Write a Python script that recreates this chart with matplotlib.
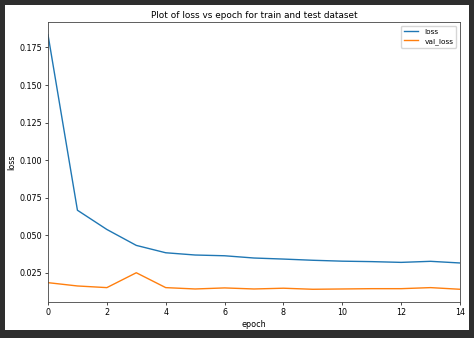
import matplotlib.pyplot as plt
from matplotlib.patches import Rectangle

# wartości
epoch = list(range(15))
loss = [0.1835, 0.0667, 0.0539, 0.0433, 0.0384, 0.0369, 0.0364, 0.0349,
        0.0342, 0.0334, 0.0328, 0.0325, 0.0320, 0.0327, 0.0316]
val_loss = [0.0185, 0.0163, 0.0152, 0.0251, 0.0152, 0.0143, 0.0150, 0.0143,
            0.0148, 0.0141, 0.0143, 0.0145, 0.0145, 0.0152, 0.0141]

fs = 5.8

fig = plt.figure(figsize=(4.74, 3.38), dpi=100, facecolor='#2e2e2e')
# biała ramka wewnątrz ciemnego tła
fig.patches.append(Rectangle((5 / 474, 8 / 338), 464 / 474, 325 / 338,
                             transform=fig.transFigure, facecolor='white',
                             edgecolor='none', zorder=-1))
ax = fig.add_axes([48 / 474, 36 / 338, 412 / 474, 280 / 338])

ax.plot(epoch, loss, color='#1f77b4', lw=1.0, label='loss')
ax.plot(epoch, val_loss, color='#ff7f0e', lw=1.0, label='val_loss')

ax.set_xlim(0, 14)
ax.set_yticks([0.025, 0.050, 0.075, 0.100, 0.125, 0.150, 0.175])
ax.set_title('Plot of loss vs epoch for train and test dataset', fontsize=6.4, pad=3)
ax.set_xlabel('epoch', fontsize=fs, labelpad=2)
ax.set_ylabel('loss', fontsize=fs, labelpad=2)
ax.tick_params(labelsize=fs, width=0.5, length=2.5, pad=2)
for s in ax.spines.values():
    s.set_linewidth(0.6)
    s.set_color('#444444')
ax.legend(loc='upper right', fontsize=5.3, handlelength=2, borderpad=0.4,
          labelspacing=0.4)

fig.savefig('out.png', dpi=100, facecolor=fig.get_facecolor())
